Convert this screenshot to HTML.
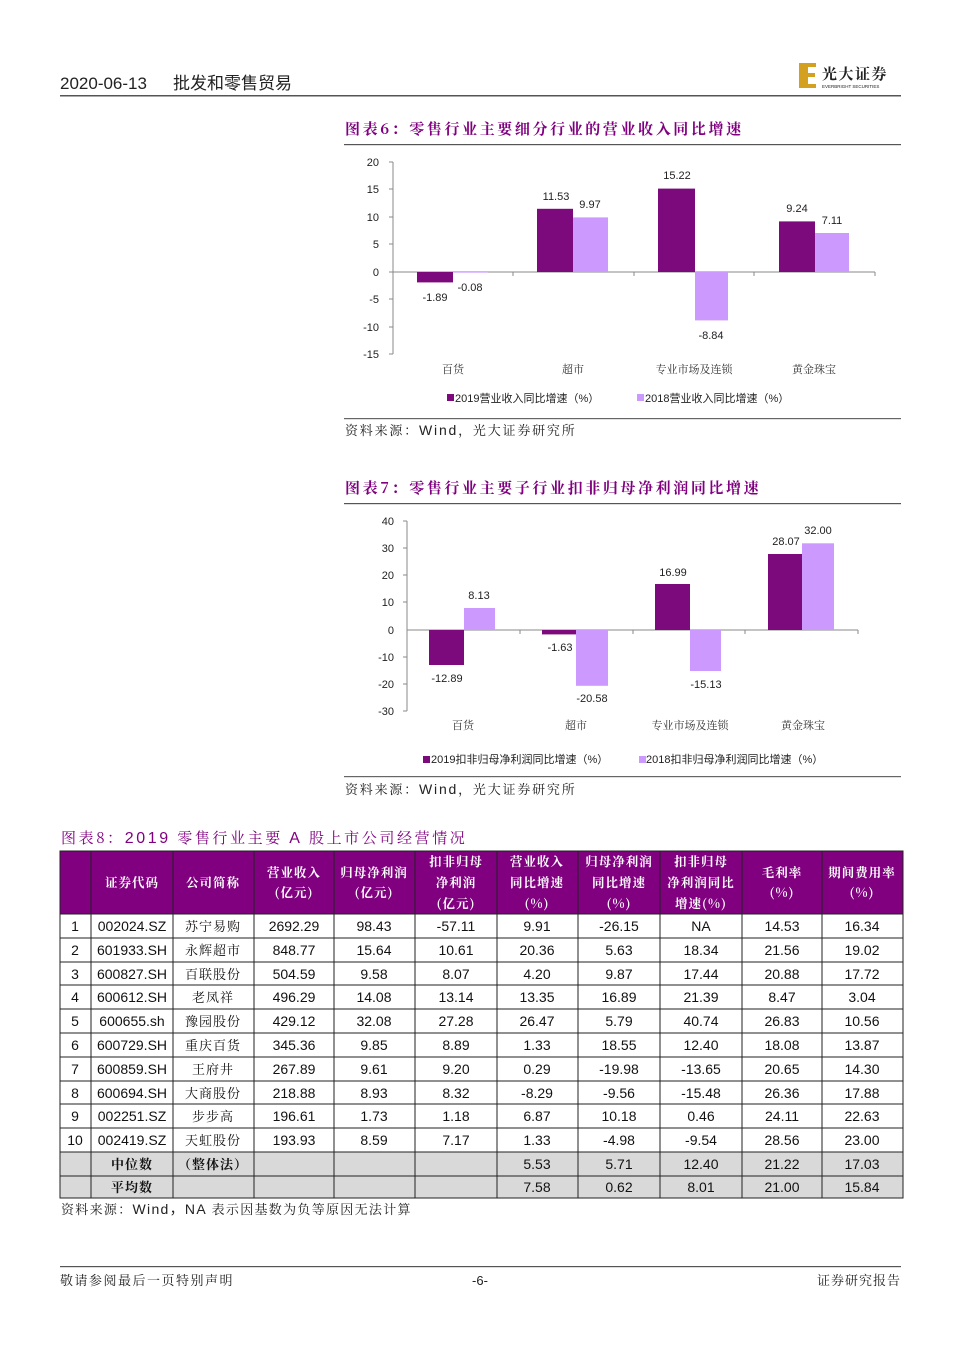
<!DOCTYPE html>
<html><head><meta charset="utf-8"><style>
body{margin:0;background:#fff;}
svg text{font-family:"Liberation Sans","Noto Sans CJK SC",sans-serif;}
.s{font-family:"Noto Serif CJK SC","Liberation Serif",serif !important;}
</style></head><body>
<svg width="960" height="1357" xmlns="http://www.w3.org/2000/svg">
<!-- header -->
<text x="60" y="89" font-size="17" fill="#222">2020-06-13</text>
<text x="173" y="89" font-size="17" fill="#222">批发和零售贸易</text>
<rect x="799" y="63" width="9" height="25" fill="#d4a020"/>
<rect x="808" y="63" width="8" height="4" fill="#d4a020"/><rect x="808" y="73" width="7" height="4" fill="#d4a020"/><rect x="808" y="84" width="8" height="4" fill="#d4a020"/>
<text x="822" y="79" font-size="15" font-weight="bold" fill="#222" class="s" letter-spacing="1.5">光大证券</text>
<text x="822" y="88" font-size="4.5" fill="#222">EVERBRIGHT SECURITIES</text>
<rect x="60" y="95" width="841" height="1.5" fill="#555"/>

<!-- chart 6 -->
<text x="345" y="134" font-size="15" fill="#800080" font-weight="bold" class="s" letter-spacing="2.6">图表6：零售行业主要细分行业的营业收入同比增速</text>
<rect x="344" y="144" width="557" height="1.2" fill="#555"/>
<g font-size="11" fill="#222" text-anchor="end">
<text x="379" y="166">20</text><text x="379" y="193">15</text><text x="379" y="221">10</text><text x="379" y="248">5</text><text x="379" y="276">0</text><text x="379" y="303">-5</text><text x="379" y="331">-10</text><text x="379" y="358">-15</text>
</g>
<g stroke="#888" stroke-width="1">
<line x1="393" y1="162" x2="393" y2="354"/><line x1="393" y1="272" x2="875" y2="272"/>
<line x1="389" y1="162" x2="393" y2="162"/><line x1="389" y1="189" x2="393" y2="189"/><line x1="389" y1="217" x2="393" y2="217"/><line x1="389" y1="244" x2="393" y2="244"/><line x1="389" y1="272" x2="393" y2="272"/><line x1="389" y1="299" x2="393" y2="299"/><line x1="389" y1="327" x2="393" y2="327"/><line x1="389" y1="354" x2="393" y2="354"/>
<line x1="513" y1="272" x2="513" y2="276"/><line x1="634" y1="272" x2="634" y2="276"/><line x1="754" y1="272" x2="754" y2="276"/><line x1="875" y1="272" x2="875" y2="276"/>
</g>
<g fill="#7d0a7d">
<rect x="417" y="272" width="36" height="10.4"/><rect x="537" y="208.8" width="36" height="63.2"/><rect x="658" y="188.6" width="37" height="83.4"/><rect x="779" y="221.4" width="36" height="50.6"/>
</g>
<g fill="#cc99ff">
<rect x="453" y="272" width="35" height="0.6"/><rect x="573" y="217.4" width="35" height="54.6"/><rect x="695" y="272" width="33" height="48.4"/><rect x="815" y="233" width="34" height="39"/>
</g>
<g font-size="11" fill="#222" text-anchor="middle">
<text x="435" y="301">-1.89</text><text x="470" y="291">-0.08</text>
<text x="556" y="200">11.53</text><text x="590" y="208">9.97</text>
<text x="677" y="179">15.22</text><text x="711" y="339">-8.84</text>
<text x="797" y="212">9.24</text><text x="832" y="224">7.11</text>
</g>
<g font-size="11" fill="#333" text-anchor="middle">
<text x="453" y="373" class="s">百货</text><text x="573" y="373" class="s">超市</text><text x="694" y="373" class="s">专业市场及连锁</text><text x="814" y="373" class="s">黄金珠宝</text>
</g>
<rect x="447" y="394" width="7" height="7" fill="#7d0a7d"/><text x="455" y="402" font-size="11" fill="#222">2019营业收入同比增速（%）</text>
<rect x="637" y="394" width="7" height="7" fill="#cc99ff"/><text x="645" y="402" font-size="11" fill="#222">2018营业收入同比增速（%）</text>
<rect x="344" y="418" width="557" height="1.2" fill="#666"/>
<text x="345" y="435" font-size="13" fill="#222" class="s" letter-spacing="1.8">资料来源：<tspan font-family="Liberation Sans" font-size="14">Wind</tspan>，光大证券研究所</text>

<!-- chart 7 -->
<text x="345" y="493" font-size="15" fill="#800080" font-weight="bold" class="s" letter-spacing="2.6">图表7：零售行业主要子行业扣非归母净利润同比增速</text>
<rect x="344" y="503" width="557" height="1.2" fill="#555"/>
<g font-size="11" fill="#222" text-anchor="end">
<text x="394" y="525">40</text><text x="394" y="552">30</text><text x="394" y="579">20</text><text x="394" y="606">10</text><text x="394" y="634">0</text><text x="394" y="661">-10</text><text x="394" y="688">-20</text><text x="394" y="715">-30</text>
</g>
<g stroke="#888" stroke-width="1">
<line x1="407" y1="521" x2="407" y2="711"/><line x1="407" y1="630" x2="858" y2="630"/>
<line x1="403" y1="521" x2="407" y2="521"/><line x1="403" y1="548" x2="407" y2="548"/><line x1="403" y1="575" x2="407" y2="575"/><line x1="403" y1="602" x2="407" y2="602"/><line x1="403" y1="657" x2="407" y2="657"/><line x1="403" y1="684" x2="407" y2="684"/><line x1="403" y1="711" x2="407" y2="711"/>
<line x1="520" y1="630" x2="520" y2="634"/><line x1="633" y1="630" x2="633" y2="634"/><line x1="745" y1="630" x2="745" y2="634"/><line x1="858" y1="630" x2="858" y2="634"/>
</g>
<g fill="#7d0a7d">
<rect x="429" y="630" width="35" height="35"/><rect x="542" y="630" width="34" height="4.4"/><rect x="655" y="584" width="35" height="46"/><rect x="768" y="554" width="34" height="76"/>
</g>
<g fill="#cc99ff">
<rect x="464" y="608" width="31" height="22"/><rect x="576" y="630" width="32" height="55.8"/><rect x="690" y="630" width="31" height="41"/><rect x="802" y="543.3" width="32" height="86.7"/>
</g>
<g font-size="11" fill="#222" text-anchor="middle">
<text x="447" y="682">-12.89</text><text x="479" y="599">8.13</text>
<text x="560" y="651">-1.63</text><text x="592" y="702">-20.58</text>
<text x="673" y="576">16.99</text><text x="706" y="688">-15.13</text>
<text x="786" y="545">28.07</text><text x="818" y="534">32.00</text>
</g>
<g font-size="11" fill="#333" text-anchor="middle">
<text x="463" y="729" class="s">百货</text><text x="576" y="729" class="s">超市</text><text x="690" y="729" class="s">专业市场及连锁</text><text x="803" y="729" class="s">黄金珠宝</text>
</g>
<rect x="423" y="756" width="7" height="7" fill="#7d0a7d"/><text x="431" y="763" font-size="11" fill="#222">2019扣非归母净利润同比增速（%）</text>
<rect x="639" y="756" width="7" height="7" fill="#cc99ff"/><text x="646" y="763" font-size="11" fill="#222">2018扣非归母净利润同比增速（%）</text>
<rect x="344" y="776" width="557" height="1.2" fill="#666"/>
<text x="345" y="794" font-size="13" fill="#222" class="s" letter-spacing="1.8">资料来源：<tspan font-family="Liberation Sans" font-size="14">Wind</tspan>，光大证券研究所</text>

<!-- table -->
<text x="61" y="843" font-size="15" fill="#800080" class="s" letter-spacing="2.6">图表8：<tspan font-family="Liberation Sans" font-size="16">2019</tspan> 零售行业主要 <tspan font-family="Liberation Sans" font-size="16">A</tspan> 股上市公司经营情况</text>
<rect x="60" y="851" width="843" height="63" fill="#800080"/>
<rect x="60" y="1152" width="843" height="46" fill="#d9d9d9"/>
<g stroke="#222" stroke-width="1" fill="none">
<rect x="60" y="851" width="843" height="347"/>
<line x1="60" y1="914" x2="903" y2="914"/>
<line x1="60" y1="938" x2="903" y2="938"/><line x1="60" y1="962" x2="903" y2="962"/><line x1="60" y1="985" x2="903" y2="985"/><line x1="60" y1="1009" x2="903" y2="1009"/><line x1="60" y1="1033" x2="903" y2="1033"/><line x1="60" y1="1057" x2="903" y2="1057"/><line x1="60" y1="1081" x2="903" y2="1081"/><line x1="60" y1="1104" x2="903" y2="1104"/><line x1="60" y1="1128" x2="903" y2="1128"/><line x1="60" y1="1152" x2="903" y2="1152"/><line x1="60" y1="1176" x2="903" y2="1176"/>
<line x1="91" y1="851" x2="91" y2="1198"/><line x1="173" y1="851" x2="173" y2="1198"/><line x1="254" y1="851" x2="254" y2="1198"/><line x1="334" y1="851" x2="334" y2="1198"/><line x1="415" y1="851" x2="415" y2="1198"/><line x1="497" y1="851" x2="497" y2="1198"/><line x1="578" y1="851" x2="578" y2="1198"/><line x1="660" y1="851" x2="660" y2="1198"/><line x1="742" y1="851" x2="742" y2="1198"/><line x1="822" y1="851" x2="822" y2="1198"/>
</g>
<g font-size="12.5" fill="#fff" font-weight="bold" text-anchor="middle" letter-spacing="1">
<text x="132" y="887" class="s">证券代码</text><text x="213" y="887" class="s">公司简称</text>
<text x="294" y="877" class="s">营业收入</text><text x="294" y="897" class="s">(亿元)</text>
<text x="374" y="877" class="s">归母净利润</text><text x="374" y="897" class="s">(亿元)</text>
<text x="456" y="866" class="s">扣非归母</text><text x="456" y="887" class="s">净利润</text><text x="456" y="908" class="s">(亿元)</text>
<text x="537" y="866" class="s">营业收入</text><text x="537" y="887" class="s">同比增速</text><text x="537" y="908" class="s">(%)</text>
<text x="619" y="866" class="s">归母净利润</text><text x="619" y="887" class="s">同比增速</text><text x="619" y="908" class="s">(%)</text>
<text x="701" y="866" class="s">扣非归母</text><text x="701" y="887" class="s">净利润同比</text><text x="701" y="908" class="s">增速(%)</text>
<text x="782" y="877" class="s">毛利率</text><text x="782" y="897" class="s">(%)</text>
<text x="862" y="877" class="s">期间费用率</text><text x="862" y="897" class="s">(%)</text>
</g>
<g font-size="14" fill="#111" text-anchor="middle">
<text x="75" y="931">1</text><text x="132" y="931">002024.SZ</text><text x="213" y="931" class="s" font-size="13" letter-spacing="1">苏宁易购</text><text x="294" y="931">2692.29</text><text x="374" y="931">98.43</text><text x="456" y="931">-57.11</text><text x="537" y="931">9.91</text><text x="619" y="931">-26.15</text><text x="701" y="931">NA</text><text x="782" y="931">14.53</text><text x="862" y="931">16.34</text>
<text x="75" y="955">2</text><text x="132" y="955">601933.SH</text><text x="213" y="955" class="s" font-size="13" letter-spacing="1">永辉超市</text><text x="294" y="955">848.77</text><text x="374" y="955">15.64</text><text x="456" y="955">10.61</text><text x="537" y="955">20.36</text><text x="619" y="955">5.63</text><text x="701" y="955">18.34</text><text x="782" y="955">21.56</text><text x="862" y="955">19.02</text>
<text x="75" y="979">3</text><text x="132" y="979">600827.SH</text><text x="213" y="979" class="s" font-size="13" letter-spacing="1">百联股份</text><text x="294" y="979">504.59</text><text x="374" y="979">9.58</text><text x="456" y="979">8.07</text><text x="537" y="979">4.20</text><text x="619" y="979">9.87</text><text x="701" y="979">17.44</text><text x="782" y="979">20.88</text><text x="862" y="979">17.72</text>
<text x="75" y="1002">4</text><text x="132" y="1002">600612.SH</text><text x="213" y="1002" class="s" font-size="13" letter-spacing="1">老凤祥</text><text x="294" y="1002">496.29</text><text x="374" y="1002">14.08</text><text x="456" y="1002">13.14</text><text x="537" y="1002">13.35</text><text x="619" y="1002">16.89</text><text x="701" y="1002">21.39</text><text x="782" y="1002">8.47</text><text x="862" y="1002">3.04</text>
<text x="75" y="1026">5</text><text x="132" y="1026">600655.sh</text><text x="213" y="1026" class="s" font-size="13" letter-spacing="1">豫园股份</text><text x="294" y="1026">429.12</text><text x="374" y="1026">32.08</text><text x="456" y="1026">27.28</text><text x="537" y="1026">26.47</text><text x="619" y="1026">5.79</text><text x="701" y="1026">40.74</text><text x="782" y="1026">26.83</text><text x="862" y="1026">10.56</text>
<text x="75" y="1050">6</text><text x="132" y="1050">600729.SH</text><text x="213" y="1050" class="s" font-size="13" letter-spacing="1">重庆百货</text><text x="294" y="1050">345.36</text><text x="374" y="1050">9.85</text><text x="456" y="1050">8.89</text><text x="537" y="1050">1.33</text><text x="619" y="1050">18.55</text><text x="701" y="1050">12.40</text><text x="782" y="1050">18.08</text><text x="862" y="1050">13.87</text>
<text x="75" y="1074">7</text><text x="132" y="1074">600859.SH</text><text x="213" y="1074" class="s" font-size="13" letter-spacing="1">王府井</text><text x="294" y="1074">267.89</text><text x="374" y="1074">9.61</text><text x="456" y="1074">9.20</text><text x="537" y="1074">0.29</text><text x="619" y="1074">-19.98</text><text x="701" y="1074">-13.65</text><text x="782" y="1074">20.65</text><text x="862" y="1074">14.30</text>
<text x="75" y="1098">8</text><text x="132" y="1098">600694.SH</text><text x="213" y="1098" class="s" font-size="13" letter-spacing="1">大商股份</text><text x="294" y="1098">218.88</text><text x="374" y="1098">8.93</text><text x="456" y="1098">8.32</text><text x="537" y="1098">-8.29</text><text x="619" y="1098">-9.56</text><text x="701" y="1098">-15.48</text><text x="782" y="1098">26.36</text><text x="862" y="1098">17.88</text>
<text x="75" y="1121">9</text><text x="132" y="1121">002251.SZ</text><text x="213" y="1121" class="s" font-size="13" letter-spacing="1">步步高</text><text x="294" y="1121">196.61</text><text x="374" y="1121">1.73</text><text x="456" y="1121">1.18</text><text x="537" y="1121">6.87</text><text x="619" y="1121">10.18</text><text x="701" y="1121">0.46</text><text x="782" y="1121">24.11</text><text x="862" y="1121">22.63</text>
<text x="75" y="1145">10</text><text x="132" y="1145">002419.SZ</text><text x="213" y="1145" class="s" font-size="13" letter-spacing="1">天虹股份</text><text x="294" y="1145">193.93</text><text x="374" y="1145">8.59</text><text x="456" y="1145">7.17</text><text x="537" y="1145">1.33</text><text x="619" y="1145">-4.98</text><text x="701" y="1145">-9.54</text><text x="782" y="1145">28.56</text><text x="862" y="1145">23.00</text>
<text x="132" y="1169" class="s" font-size="13" font-weight="bold" letter-spacing="1">中位数</text><text x="213" y="1169" class="s" font-size="13" font-weight="bold" letter-spacing="1">（整体法）</text><text x="537" y="1169">5.53</text><text x="619" y="1169">5.71</text><text x="701" y="1169">12.40</text><text x="782" y="1169">21.22</text><text x="862" y="1169">17.03</text>
<text x="132" y="1192" class="s" font-size="13" font-weight="bold" letter-spacing="1">平均数</text><text x="537" y="1192">7.58</text><text x="619" y="1192">0.62</text><text x="701" y="1192">8.01</text><text x="782" y="1192">21.00</text><text x="862" y="1192">15.84</text>
</g>
<text x="61" y="1214" font-size="13" fill="#222" class="s" letter-spacing="1.3">资料来源：<tspan font-family="Liberation Sans" font-size="14">Wind，NA</tspan> 表示因基数为负等原因无法计算</text>

<!-- footer -->
<rect x="60" y="1266" width="841" height="1.2" fill="#555"/>
<text x="60" y="1285" font-size="13" fill="#222" class="s" letter-spacing="1.5">敬请参阅最后一页特别声明</text>
<text x="480" y="1285" font-size="13" fill="#222" text-anchor="middle">-6-</text>
<text x="901" y="1285" font-size="13" fill="#222" text-anchor="end" class="s" letter-spacing="1">证券研究报告</text>
</svg>
</body></html>
